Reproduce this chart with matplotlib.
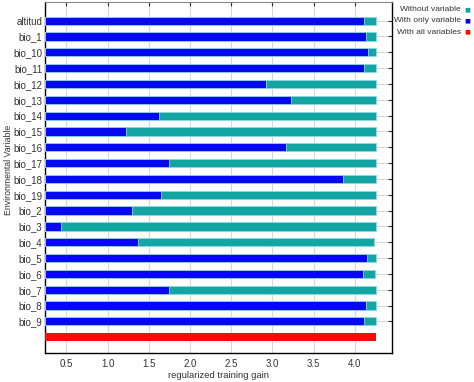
import numpy as np
import matplotlib.pyplot as plt

plt.rcParams["font.family"] = ["Liberation Sans", "DejaVu Sans"]

variables = ["altitud", "bio_1", "bio_10", "bio_11", "bio_12", "bio_13", "bio_14",
             "bio_15", "bio_16", "bio_17", "bio_18", "bio_19", "bio_2", "bio_3",
             "bio_4", "bio_5", "bio_6", "bio_7", "bio_8", "bio_9"]
without_var = [4.26, 4.26, 4.26, 4.26, 4.26, 4.26, 4.25, 4.26, 4.26, 4.26,
               4.26, 4.26, 4.25, 4.26, 4.23, 4.26, 4.24, 4.26, 4.26, 4.26]
only_var = [4.11, 4.13, 4.16, 4.11, 2.92, 3.23, 1.62, 1.22, 3.16, 1.74,
            3.86, 1.65, 1.29, 0.43, 1.37, 4.15, 4.10, 1.75, 4.14, 4.11]
all_vars = 4.26

xmin, xmax = 0.24, 4.45
teal = "#12A5A2"
blue = "#0808F0"
red = "#FF0808"

fig = plt.figure(figsize=(4.74, 3.82), dpi=100)
ax = fig.add_axes([45 / 474, 1 - 353 / 382, (392 - 45) / 474, (353 - 2) / 382])

y = np.arange(len(variables))
h = 0.52
ax.barh(y, np.array(without_var) - xmin, left=xmin, height=h, color=teal,
        edgecolor="#8CD9E8", linewidth=0.6, zorder=3)
ax.barh(y, np.array(only_var) - xmin, left=xmin, height=h, color=blue,
        edgecolor="#8CD9E8", linewidth=0.6, zorder=4)
ax.barh([len(variables)], [all_vars - xmin], left=xmin, height=h, color=red,
        zorder=4)

ax.set_xlim(xmin, xmax)
ax.set_ylim(len(variables) + 1.0, -1.18)
ax.set_yticks(y)
ax.set_yticklabels(variables)
ax.set_xticks(np.arange(0.5, 4.01, 0.5))
ax.set_xticklabels([f"{v:.1f}" for v in np.arange(0.5, 4.01, 0.5)])

ax.grid(True, color="#D8D8D8", linewidth=0.8, zorder=0)
ax.set_axisbelow(True)
ax.tick_params(axis="y", left=False, right=True, direction="in", length=3,
               labelsize=7, colors="#333333", pad=2)
ax.tick_params(axis="x", bottom=False, top=True, direction="in", length=3,
               labelsize=7, colors="#333333", pad=4)
for s in ["left", "bottom", "right"]:
    ax.spines[s].set_color("black")
    ax.spines[s].set_linewidth(1.0)
ax.spines["top"].set_color("#888888")

fig.text(218 / 474, 1 - 375 / 382, "regularized training gain", ha="center",
         va="center", fontsize=6.8, color="#333333")
fig.text(9 / 474, 1 - 170 / 382, "Environmental Variable", ha="center",
         va="center", rotation=90, fontsize=6.3, color="#333333")

legend_items = [("Without variable", teal), ("With only variable", blue),
                ("With all variables", red)]
for i, (name, c) in enumerate(legend_items):
    yy = 1 - (9.5 + i * 11.3) / 382
    fig.text(461 / 474, yy, name, ha="right", va="center", fontsize=6,
             color="#333333")
    fig.text(467 / 474, yy, "\u25A0", ha="center", va="center", fontsize=4.5,
             color=c, family="DejaVu Sans")

fig.savefig("out.png", dpi=100)
